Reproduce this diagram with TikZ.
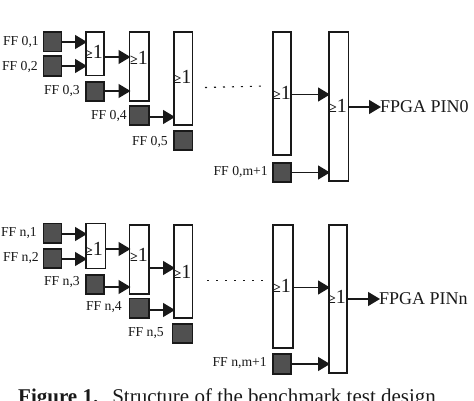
\documentclass[tikz,border=0pt]{standalone}
\usepackage{fontspec}
\setmainfont{Liberation Serif}
\usetikzlibrary{arrows.meta}
\definecolor{ffgrey}{RGB}{80,80,80}
\definecolor{ink}{RGB}{25,25,25}
\tikzset{
  x=1pt,y=-1pt,
  ffbox/.style={draw=ink,fill=ffgrey,line width=1.3pt,inner sep=0pt,outer sep=0pt},
  orbox/.style={draw=ink,fill=white,line width=1.3pt,inner sep=0pt,outer sep=0pt},
  wire/.style={draw=ink,line width=1.3pt,-{Triangle[length=12pt,width=14pt]},shorten >=-1pt},
  lab/.style={anchor=east,inner sep=0pt,font=\fontsize{13.7}{14}\selectfont,text=ink},
  orl/.style={inner sep=0pt,text=ink},
  pin/.style={anchor=west,inner sep=0pt,font=\fontsize{18}{18}\selectfont,text=ink},
  dotline/.style={draw=ink,line width=1.1pt,dash pattern=on 2pt off 7pt}
}
\newcommand{\orsym}[2]{\node[orl] at (#1,#2) {\fontsize{14}{14}\selectfont\textbf{≥}\fontsize{20}{20}\selectfont 1};}
\begin{document}
\begin{tikzpicture}
\useasboundingbox (0,0) rectangle (474,401);
\clip (0,0) rectangle (474,401);
\foreach \nm/\xa/\xb/\ya/\yb in {
  a1/43.5/61.5/32/51.5, a2/43.5/61.5/56/76, a3/86/104/82/101, a4/129.5/149/106/125,
  a5/174/192.5/131/150, a6/273/291/163/182,
  b1/43.5/61.5/223.5/243, b2/43.5/61.5/249/268, b3/86/104/275/294, b4/129.5/149/298.5/318,
  b5/172.5/192.5/324/343, b6/273/291/354/374}{
  \node[ffbox,minimum width={(\xb-\xa)*1pt},minimum height={(\yb-\ya)*1pt},anchor=north west] (\nm) at (\xa,\ya) {};
}
\foreach \nm/\xa/\xb/\ya/\yb in {
  p1/86/104/32/75.5, p2/129.5/149/32/101, p3/174/192.5/32/125, p4/273/291/32/155, p5/329/348.5/32/181,
  q1/86/105.5/223.5/268.5, q2/129.5/149/225/294, q3/174/192.5/225/318, q4/273/293/225/348, q5/329/347/225/373}{
  \node[orbox,minimum width={(\xb-\xa)*1pt},minimum height={(\yb-\ya)*1pt},anchor=north west] (\nm) at (\xa,\ya) {};
}
% OR symbols
\foreach \px/\py in {94/52, 139/58, 182.5/77, 282/93, 338/106,
                     94/249, 139/255, 182.5/272, 282/286, 337/297}{
  \orsym{\px}{\py}
}
% connectors
\foreach \s/\t/\yy in {a1/p1/42, a2/p1/66, a3/p2/91, a4/p3/117, a6/p5/172.5,
                       b1/q1/234, b2/q1/259, b3/q2/287, b4/q3/310, b6/q5/364}{
  \draw[wire] (\s.east |- 0,\yy) -- (\t.west |- 0,\yy);
}
\foreach \s/\t/\yy in {p1/p2/57, p4/p5/94.5, q1/q2/249, q2/q3/268, q4/q5/287.5}{
  \draw[wire] (\s.east |- 0,\yy) -- (\t.west |- 0,\yy);
}
% outputs
\node[pin] (o0) at (380,107) {FPGA PIN0};
\node[pin] (o1) at (379,299) {FPGA PINn};
\draw[wire] (p5.east |- o0.west) -- (o0.west);
\draw[wire] (q5.east |- o1.west) -- (o1.west);
% dots
\coordinate (d0a) at (205,87.5); \coordinate (d0b) at (265,86);
\coordinate (d1a) at (207,280.5); \coordinate (d1b) at (268,280.5);
\draw[dotline] (d0a) -- (d0b);
\draw[dotline] (d1a) -- (d1b);
% labels
\node[lab] at (39,41.5) {FF 0,1};
\node[lab] at (38,67) {FF 0,2};
\node[lab] at (80,90.5) {FF 0,3};
\node[lab] at (127,116) {FF 0,4};
\node[lab] at (168,142) {FF 0,5};
\node[lab] at (268,172) {FF 0,m+1};
\node[lab] at (37,233) {FF n,1};
\node[lab] at (39,258.5) {FF n,2};
\node[lab] at (80,282) {FF n,3};
\node[lab] at (122,307.5) {FF n,4};
\node[lab] at (164,333.5) {FF n,5};
\node[lab] at (267,363.5) {FF n,m+1};
% caption
\node[anchor=base west,inner sep=0pt,font=\fontsize{21}{21}\selectfont,text=ink] (cap) at (18,403.5) {\textbf{Figure 1.}\hspace{14pt}Structure of the benchmark test design};
\end{tikzpicture}
\end{document}
